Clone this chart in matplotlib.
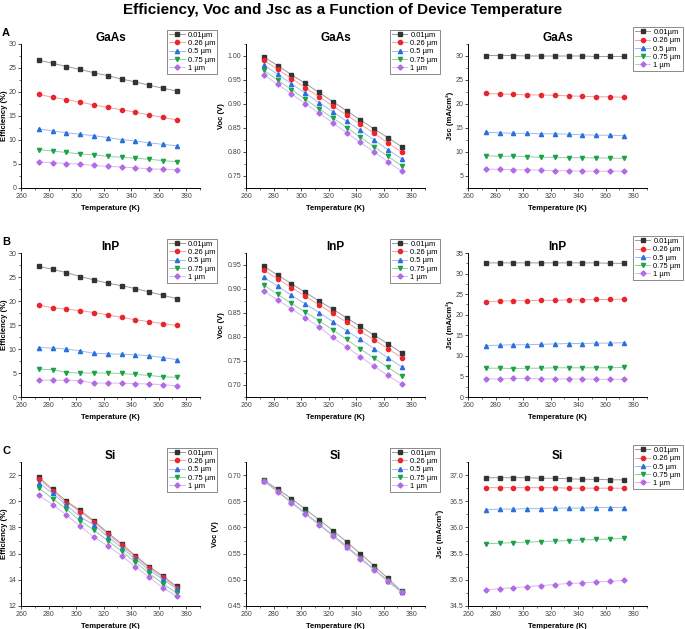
import numpy as np
import matplotlib
matplotlib.use("Agg")
from matplotlib import pyplot as plt
from matplotlib.ticker import AutoMinorLocator, MultipleLocator, FormatStrFormatter

plt.rcParams['font.family'] = ['Liberation Sans', 'DejaVu Sans']

temps = [273, 283, 293, 303, 313, 323, 333, 343, 353, 363, 373]
labels = ["0.01µm", "0.26 µm", "0.5 µm", "0.75 µm", "1 µm"]

# GaAs
gaas_eff = [
    [26.6, 26.0, 25.3, 24.7, 24.0, 23.4, 22.7, 22.1, 21.4, 20.8, 20.2],
    [19.5, 18.9, 18.4, 17.9, 17.3, 16.8, 16.3, 15.8, 15.2, 14.7, 14.2],
    [12.3, 11.9, 11.5, 11.2, 10.9, 10.5, 10.1, 9.8, 9.4, 9.1, 8.8],
    [8.0, 7.7, 7.4, 7.1, 6.9, 6.6, 6.4, 6.2, 6.0, 5.7, 5.5],
    [5.4, 5.3, 5.1, 5.0, 4.7, 4.5, 4.4, 4.2, 4.0, 3.9, 3.8],
]
gaas_voc = [
    [0.998, 0.980, 0.961, 0.943, 0.924, 0.905, 0.886, 0.867, 0.848, 0.830, 0.811],
    [0.991, 0.972, 0.953, 0.934, 0.915, 0.896, 0.877, 0.858, 0.839, 0.819, 0.800],
    [0.981, 0.962, 0.942, 0.923, 0.903, 0.884, 0.864, 0.845, 0.825, 0.805, 0.786],
    [0.970, 0.950, 0.930, 0.910, 0.890, 0.871, 0.851, 0.831, 0.811, 0.791, 0.771],
    [0.961, 0.941, 0.921, 0.901, 0.881, 0.861, 0.840, 0.820, 0.800, 0.780, 0.760],
]
gaas_jsc = [
    [30.1, 30.1, 30.1, 30.0, 30.0, 30.0, 30.0, 30.0, 29.9, 29.9, 29.9],
    [22.2, 22.1, 22.0, 21.9, 21.9, 21.8, 21.7, 21.6, 21.5, 21.5, 21.4],
    [14.1, 14.0, 13.9, 13.9, 13.8, 13.8, 13.7, 13.6, 13.5, 13.5, 13.4],
    [9.2, 9.1, 9.1, 9.0, 8.9, 8.9, 8.8, 8.8, 8.8, 8.7, 8.7],
    [6.4, 6.4, 6.3, 6.3, 6.2, 6.1, 6.1, 6.0, 6.0, 6.0, 6.0],
]

# InP
inp_eff = [
    [27.2, 26.6, 25.9, 25.1, 24.4, 23.7, 23.2, 22.6, 21.9, 21.2, 20.5],
    [19.1, 18.6, 18.3, 18.0, 17.6, 17.1, 16.6, 16.1, 15.7, 15.3, 14.9],
    [10.3, 10.2, 10.0, 9.6, 9.1, 9.0, 8.9, 8.8, 8.6, 8.2, 7.8],
    [5.8, 5.7, 5.1, 5.0, 5.0, 5.0, 4.9, 4.7, 4.5, 4.2, 4.1],
    [3.5, 3.5, 3.5, 3.4, 2.9, 2.9, 2.9, 2.8, 2.7, 2.6, 2.3],
]
inp_voc = [
    [0.947, 0.929, 0.911, 0.893, 0.875, 0.858, 0.840, 0.822, 0.804, 0.786, 0.767],
    [0.939, 0.921, 0.903, 0.885, 0.867, 0.849, 0.831, 0.812, 0.794, 0.776, 0.757],
    [0.924, 0.906, 0.887, 0.869, 0.851, 0.832, 0.813, 0.795, 0.776, 0.757, 0.738],
    [0.908, 0.889, 0.870, 0.852, 0.834, 0.815, 0.795, 0.775, 0.756, 0.737, 0.718],
    [0.896, 0.877, 0.859, 0.840, 0.821, 0.799, 0.779, 0.759, 0.739, 0.720, 0.702],
]
inp_jsc = [
    [32.6, 32.6, 32.6, 32.6, 32.6, 32.6, 32.6, 32.6, 32.6, 32.5, 32.5],
    [23.2, 23.3, 23.4, 23.4, 23.5, 23.5, 23.6, 23.6, 23.7, 23.7, 23.8],
    [12.5, 12.6, 12.7, 12.7, 12.8, 12.9, 13.0, 13.0, 13.1, 13.1, 13.2],
    [7.0, 7.0, 6.9, 7.0, 7.0, 7.1, 7.1, 7.1, 7.1, 7.1, 7.2],
    [4.4, 4.4, 4.5, 4.5, 4.4, 4.4, 4.4, 4.4, 4.3, 4.3, 4.3],
]

# Si
si_eff = [
    [21.85, 20.9, 20.0, 19.3, 18.5, 17.6, 16.75, 15.85, 15.0, 14.3, 13.5],
    [21.7, 20.8, 19.9, 19.2, 18.4, 17.5, 16.65, 15.75, 14.9, 14.2, 13.4],
    [21.4, 20.6, 19.7, 18.8, 18.2, 17.3, 16.45, 15.6, 14.75, 14.05, 13.3],
    [21.0, 20.2, 19.4, 18.5, 17.8, 17.0, 16.2, 15.35, 14.5, 13.7, 13.0],
    [20.45, 19.75, 18.95, 18.1, 17.25, 16.6, 15.85, 15.0, 14.2, 13.4, 12.75],
]
si_voc = [
    [0.690, 0.673, 0.655, 0.635, 0.615, 0.594, 0.573, 0.550, 0.527, 0.503, 0.478],
    [0.689, 0.669, 0.648, 0.627, 0.606, 0.585, 0.564, 0.542, 0.520, 0.498, 0.477],
    [0.689, 0.669, 0.648, 0.627, 0.606, 0.585, 0.563, 0.541, 0.520, 0.498, 0.477],
    [0.689, 0.668, 0.648, 0.627, 0.606, 0.585, 0.563, 0.541, 0.520, 0.498, 0.476],
    [0.689, 0.668, 0.647, 0.626, 0.605, 0.584, 0.562, 0.540, 0.519, 0.497, 0.476],
]
si_jsc = [
    [36.95, 36.95, 36.95, 36.95, 36.94, 36.94, 36.93, 36.92, 36.92, 36.91, 36.91],
    [36.76, 36.76, 36.76, 36.76, 36.76, 36.76, 36.75, 36.75, 36.75, 36.75, 36.75],
    [36.34, 36.35, 36.35, 36.36, 36.36, 36.37, 36.37, 36.37, 36.38, 36.38, 36.38],
    [35.69, 35.70, 35.71, 35.72, 35.73, 35.74, 35.75, 35.76, 35.77, 35.78, 35.79],
    [34.81, 34.83, 34.85, 34.87, 34.89, 34.91, 34.93, 34.94, 34.96, 34.97, 34.99],
]

colors = ["#333333", "#e8262b", "#2a6fdb", "#1fa14a", "#b26ae6"]
lightc = ["#9a9a9a", "#f4a0a2", "#9dbcf0", "#8fd0a4", "#d9b8f3"]
markers = ["s", "o", "^", "v", "D"]

W, H = 685, 629
fig = plt.figure(figsize=(W / 100, H / 100), dpi=100)

lefts = [21, 246, 468]
tops = [44, 253, 462]
aw, ah = 179, 144

rows = [
    ("GaAs", [gaas_eff, gaas_voc, gaas_jsc],
     [(0, 30, 5), (0.725, 1.025, 0.05), (2.5, 32.5, 5)]),
    ("InP", [inp_eff, inp_voc, inp_jsc],
     [(0, 30, 5), (0.675, 0.975, 0.05), (0, 35, 5)]),
    ("Si", [si_eff, si_voc, si_jsc],
     [(12, 23, 2), (0.45, 0.725, 0.05), (34.5, 37.25, 0.5)]),
]
ylabels = ["Efficiency (%)", "Voc (V)", "Jsc (mA/cm²)"]
ylab_x = [[-0.075, -0.117, -0.078],
          [-0.075, -0.117, -0.078],
          [-0.075, -0.15, -0.135]]
letters = ["A", "B", "C"]
leg_anchor = [(1.095, 1.10), (1.083, 1.10), (1.20, 1.12)]

for r, (name, datasets, lims) in enumerate(rows):
    for c in range(3):
        ax = fig.add_axes([lefts[c] / W, 1 - (tops[r] + ah) / H, aw / W, ah / H])
        for i in range(5):
            ax.plot(temps, datasets[c][i], color=lightc[i], lw=0.7,
                    marker=markers[i], ms=3.0 if markers[i] != "D" else 2.6,
                    mfc=colors[i], mec=colors[i], label=labels[i])
        lo, hi, step = lims[c]
        ax.set_ylim(lo, hi)
        ax.yaxis.set_major_locator(MultipleLocator(step))
        ax.set_xlim(260, 390)
        ax.xaxis.set_major_locator(MultipleLocator(20))
        ax.xaxis.set_minor_locator(AutoMinorLocator(2))
        ax.yaxis.set_minor_locator(AutoMinorLocator(2))
        for s in ["top", "right"]:
            ax.spines[s].set_visible(False)
        for s in ["left", "bottom"]:
            ax.spines[s].set_linewidth(0.7)
        ax.tick_params(labelsize=5, labelcolor="#444444", length=2.2, width=0.5, pad=1.2)
        ax.tick_params(which="minor", length=1.3, width=0.4)
        if c == 1:
            ax.yaxis.set_major_formatter(FormatStrFormatter("%.2f"))
        if r == 2 and c == 2:
            ax.yaxis.set_major_formatter(FormatStrFormatter("%.1f"))
        ax.set_title(name, fontsize=8.5, fontweight="bold", pad=1.5)
        ax.set_xlabel("Temperature (K)", fontsize=5.5, fontweight="bold", labelpad=4)
        ax.set_ylabel(ylabels[c], fontsize=5.5, fontweight="bold")
        ax.yaxis.set_label_coords(ylab_x[r][c], 0.5)
        leg = ax.legend(loc="upper right", bbox_to_anchor=leg_anchor[c], fontsize=5.5,
                        frameon=True, fancybox=False, edgecolor="#777777", framealpha=1,
                        handlelength=2.0, handletextpad=0.4, labelspacing=0.12,
                        borderpad=0.25, borderaxespad=0)
        leg.get_frame().set_linewidth(0.6)
        if c == 0:
            ax.text(-0.106, 1.04, letters[r], transform=ax.transAxes,
                    fontsize=8, fontweight="bold", ha="left", va="bottom")

fig.suptitle("Efficiency, Voc and Jsc as a Function of Device Temperature",
             fontsize=11, fontweight="bold", y=0.996)

fig.savefig("out.png", dpi=100)
